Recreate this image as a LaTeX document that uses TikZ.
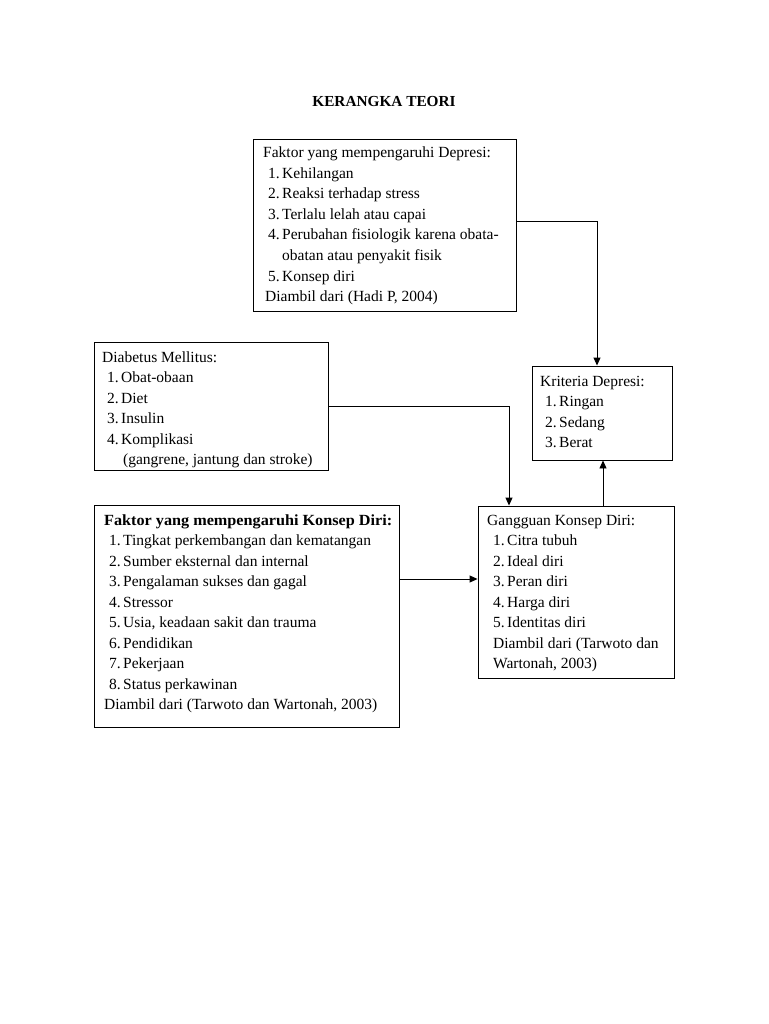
\documentclass[tikz,border=0pt]{standalone}
\usepackage{fontspec}
\setmainfont{Liberation Serif}
\usetikzlibrary{arrows.meta}
\newcommand{\tline}[4]{\node[txt] (#1) at (#2,#3) {#4};}
\newcommand{\nm}[1]{\makebox[14pt][l]{#1}}
\begin{document}
\begin{tikzpicture}[x=1pt,y=-1pt,
  box/.style={draw, line width=0.9pt, rectangle, inner sep=0pt},
  txt/.style={anchor=base west, inner sep=0pt, font=\fontsize{15.5}{18}\selectfont},
  arr/.style={line width=0.9pt, -{Triangle[length=8pt,width=7pt]}}]
\useasboundingbox (0,0) rectangle (768,1024);
\fill[white] (0,0) rectangle (768,1024);
\node[anchor=base, inner sep=0pt, font=\fontsize{15.3}{18}\selectfont\bfseries] (title) at (384,107) {KERANGKA TEORI};
% boxes
\node[box, minimum width=263pt, minimum height=172pt] (b1) at (384.5,225) {};
\node[box, minimum width=234pt, minimum height=128pt] (b2) at (211,406) {};
\node[box, minimum width=140pt, minimum height=94pt] (krit) at (602,413) {};
\node[box, minimum width=305pt, minimum height=222pt] (b4) at (246.5,616) {};
\node[box, minimum width=196pt, minimum height=172pt] (gg) at (576,592) {};
% box 1 text
\tline{a0}{263}{158}{Faktor yang mempengaruhi Depresi:}
\tline{a1}{268}{178.5}{\nm{1.}Kehilangan}
\tline{a2}{268}{199}{\nm{2.}Reaksi terhadap stress}
\tline{a3}{268}{219.5}{\nm{3.}Terlalu lelah atau capai}
\tline{a4}{268}{240}{\nm{4.}Perubahan fisiologik karena obata-}
\tline{a5}{282}{260.5}{obatan atau penyakit fisik}
\tline{a6}{268}{281}{\nm{5.}Konsep diri}
\tline{a7}{265}{301.5}{Diambil dari (Hadi P, 2004)}
% box 2 text
\tline{d0}{102}{362}{Diabetus Mellitus:}
\tline{d1}{107}{382.5}{\nm{1.}Obat-obaan}
\tline{d2}{107}{403}{\nm{2.}Diet}
\tline{d3}{107}{423.5}{\nm{3.}Insulin}
\tline{d4}{107}{444}{\nm{4.}Komplikasi}
\tline{d5}{123}{464}{(gangrene, jantung dan stroke)}
% kriteria text
\tline{k0}{540}{386}{Kriteria Depresi:}
\tline{k1}{545}{406.5}{\nm{1.}Ringan}
\tline{k2}{545}{427}{\nm{2.}Sedang}
\tline{k3}{545}{447.5}{\nm{3.}Berat}
% konsep text
\tline{f0}{104}{525}{\scalebox{1.045}[1]{\bfseries Faktor yang mempengaruhi Konsep Diri:}}
\tline{f1}{109}{545.5}{\nm{1.}Tingkat perkembangan dan kematangan}
\tline{f2}{109}{566}{\nm{2.}Sumber eksternal dan internal}
\tline{f3}{109}{586.5}{\nm{3.}Pengalaman sukses dan gagal}
\tline{f4}{109}{607}{\nm{4.}Stressor}
\tline{f5}{109}{627.5}{\nm{5.}Usia, keadaan sakit dan trauma}
\tline{f6}{109}{648}{\nm{6.}Pendidikan}
\tline{f7}{109}{668.5}{\nm{7.}Pekerjaan}
\tline{f8}{109}{689}{\nm{8.}Status perkawinan}
\tline{f9}{104}{709.5}{Diambil dari (Tarwoto dan Wartonah, 2003)}
% gangguan text
\tline{g0}{487}{525}{Gangguan Konsep Diri:}
\tline{g1}{493}{545.5}{\nm{1.}Citra tubuh}
\tline{g2}{493}{566}{\nm{2.}Ideal diri}
\tline{g3}{493}{586.5}{\nm{3.}Peran diri}
\tline{g4}{493}{607}{\nm{4.}Harga diri}
\tline{g5}{493}{627.5}{\nm{5.}Identitas diri}
\tline{g6}{493}{648}{Diambil dari (Tarwoto dan}
\tline{g7}{493}{668.5}{Wartonah, 2003)}
% connectors
\draw[arr] ([yshift=4pt]b1.east) -| ([xshift=-5pt]krit.north);
\draw[arr] (b2.east) -| ([xshift=-67pt]gg.north);
\draw[arr] ([yshift=37pt]b4.east) coordinate (c4) -- (gg.west |- c4);
\draw[arr] ([xshift=27pt]gg.north) coordinate (c5) -- (krit.south -| c5);
\end{tikzpicture}
\end{document}
